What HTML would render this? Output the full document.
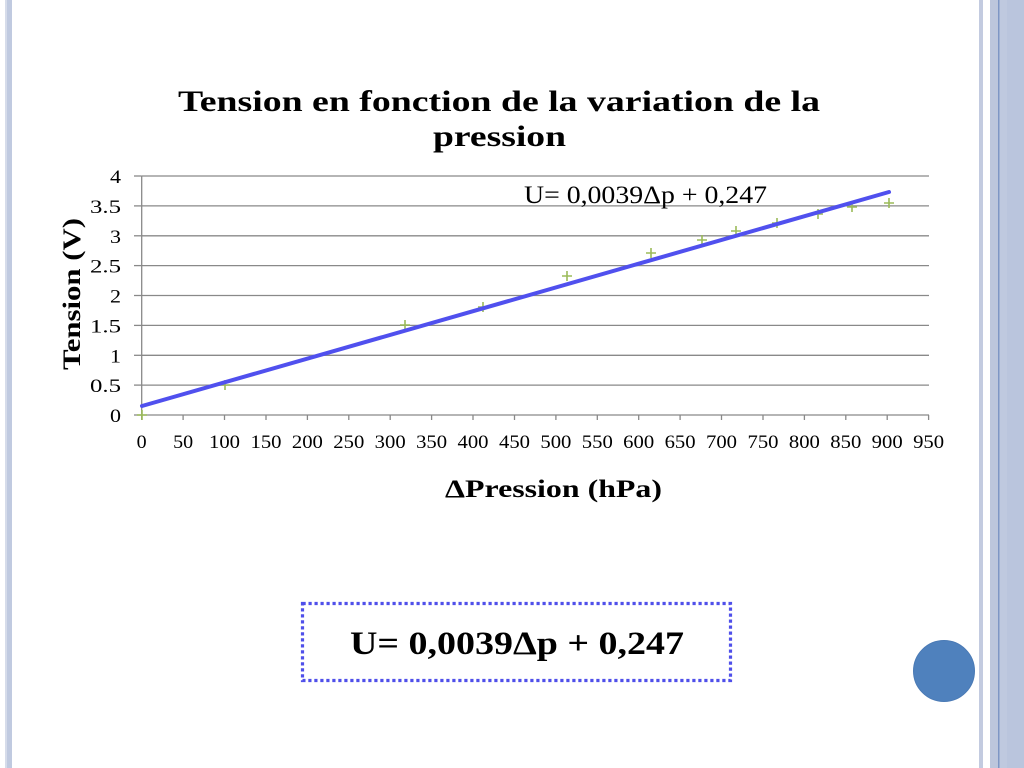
<!DOCTYPE html>
<html>
<head>
<meta charset="utf-8">
<style>
  html, body { margin: 0; padding: 0; background: #ffffff; }
  body { width: 1024px; height: 768px; overflow: hidden; }
  svg { display: block; }
  text { font-family: "Liberation Serif", "DejaVu Serif", serif; fill: #000; }
</style>
</head>
<body>
<svg width="1024" height="768" viewBox="0 0 1024 768" xmlns="http://www.w3.org/2000/svg">
  <rect x="0" y="0" width="1024" height="768" fill="#ffffff"/>

  <!-- left border stripe -->
  <rect x="5" y="0" width="2" height="768" fill="#d6dcea"/>
  <rect x="7" y="0" width="5" height="768" fill="#c0cae0"/>

  <!-- right border stripes -->
  <rect x="979" y="0" width="4" height="768" fill="#c3cbe0"/>
  <rect x="990" y="0" width="8" height="768" fill="#bcc6dc"/>
  <rect x="998" y="0" width="1.5" height="768" fill="#7e96c4"/>
  <rect x="999.5" y="0" width="7.5" height="768" fill="#bfc9df"/>
  <rect x="1007" y="0" width="17" height="768" fill="#bac5dd"/>

  <!-- Title -->
  <text x="178" y="111" font-size="30" font-weight="bold" textLength="642" lengthAdjust="spacingAndGlyphs">Tension en fonction de la variation de la</text>
  <text x="433" y="146" font-size="30" font-weight="bold" textLength="133" lengthAdjust="spacingAndGlyphs">pression</text>

  <!-- gridlines -->
  <g stroke="#898989" stroke-width="1.3">
    <line x1="141.7" y1="176" x2="929" y2="176"/>
    <line x1="141.7" y1="205.9" x2="929" y2="205.9"/>
    <line x1="141.7" y1="235.8" x2="929" y2="235.8"/>
    <line x1="141.7" y1="265.6" x2="929" y2="265.6"/>
    <line x1="141.7" y1="295.5" x2="929" y2="295.5"/>
    <line x1="141.7" y1="325.4" x2="929" y2="325.4"/>
    <line x1="141.7" y1="355.3" x2="929" y2="355.3"/>
    <line x1="141.7" y1="385.1" x2="929" y2="385.1"/>
    <line x1="141.7" y1="415" x2="929" y2="415"/>
    <!-- y ticks -->
    <line x1="134" y1="176" x2="141.7" y2="176"/>
    <line x1="134" y1="205.9" x2="141.7" y2="205.9"/>
    <line x1="134" y1="235.8" x2="141.7" y2="235.8"/>
    <line x1="134" y1="265.6" x2="141.7" y2="265.6"/>
    <line x1="134" y1="295.5" x2="141.7" y2="295.5"/>
    <line x1="134" y1="325.4" x2="141.7" y2="325.4"/>
    <line x1="134" y1="355.3" x2="141.7" y2="355.3"/>
    <line x1="134" y1="385.1" x2="141.7" y2="385.1"/>
    <line x1="134" y1="415" x2="141.7" y2="415"/>
    <!-- y axis -->
    <line x1="141.7" y1="176" x2="141.7" y2="420"/>
    <!-- x ticks -->
    <line x1="183.1" y1="415" x2="183.1" y2="420"/>
    <line x1="224.5" y1="415" x2="224.5" y2="420"/>
    <line x1="266" y1="415" x2="266" y2="420"/>
    <line x1="307.4" y1="415" x2="307.4" y2="420"/>
    <line x1="348.8" y1="415" x2="348.8" y2="420"/>
    <line x1="390.2" y1="415" x2="390.2" y2="420"/>
    <line x1="431.6" y1="415" x2="431.6" y2="420"/>
    <line x1="473" y1="415" x2="473" y2="420"/>
    <line x1="514.5" y1="415" x2="514.5" y2="420"/>
    <line x1="555.9" y1="415" x2="555.9" y2="420"/>
    <line x1="597.3" y1="415" x2="597.3" y2="420"/>
    <line x1="638.7" y1="415" x2="638.7" y2="420"/>
    <line x1="680.1" y1="415" x2="680.1" y2="420"/>
    <line x1="721.5" y1="415" x2="721.5" y2="420"/>
    <line x1="763" y1="415" x2="763" y2="420"/>
    <line x1="804.4" y1="415" x2="804.4" y2="420"/>
    <line x1="845.8" y1="415" x2="845.8" y2="420"/>
    <line x1="887.2" y1="415" x2="887.2" y2="420"/>
    <line x1="928.6" y1="415" x2="928.6" y2="420"/>
  </g>

  <!-- y tick labels -->
  <g font-size="19" text-anchor="end">
    <text x="121" y="183" textLength="11" lengthAdjust="spacingAndGlyphs">4</text>
    <text x="121" y="213" textLength="31" lengthAdjust="spacingAndGlyphs">3.5</text>
    <text x="121" y="243" textLength="11" lengthAdjust="spacingAndGlyphs">3</text>
    <text x="121" y="272.6" textLength="31" lengthAdjust="spacingAndGlyphs">2.5</text>
    <text x="121" y="302.5" textLength="11" lengthAdjust="spacingAndGlyphs">2</text>
    <text x="121" y="332.4" textLength="31" lengthAdjust="spacingAndGlyphs">1.5</text>
    <text x="121" y="362.3" textLength="11" lengthAdjust="spacingAndGlyphs">1</text>
    <text x="121" y="392.1" textLength="31" lengthAdjust="spacingAndGlyphs">0.5</text>
    <text x="121" y="422" textLength="11" lengthAdjust="spacingAndGlyphs">0</text>
  </g>

  <!-- x tick labels -->
  <g font-size="19" text-anchor="middle">
    <text x="141.7" y="448" textLength="10" lengthAdjust="spacingAndGlyphs">0</text>
    <text x="183.1" y="448" textLength="20" lengthAdjust="spacingAndGlyphs">50</text>
    <text x="224.5" y="448" textLength="31" lengthAdjust="spacingAndGlyphs">100</text>
    <text x="266" y="448" textLength="31" lengthAdjust="spacingAndGlyphs">150</text>
    <text x="307.4" y="448" textLength="31" lengthAdjust="spacingAndGlyphs">200</text>
    <text x="348.8" y="448" textLength="31" lengthAdjust="spacingAndGlyphs">250</text>
    <text x="390.2" y="448" textLength="31" lengthAdjust="spacingAndGlyphs">300</text>
    <text x="431.6" y="448" textLength="31" lengthAdjust="spacingAndGlyphs">350</text>
    <text x="473" y="448" textLength="31" lengthAdjust="spacingAndGlyphs">400</text>
    <text x="514.5" y="448" textLength="31" lengthAdjust="spacingAndGlyphs">450</text>
    <text x="555.9" y="448" textLength="31" lengthAdjust="spacingAndGlyphs">500</text>
    <text x="597.3" y="448" textLength="31" lengthAdjust="spacingAndGlyphs">550</text>
    <text x="638.7" y="448" textLength="31" lengthAdjust="spacingAndGlyphs">600</text>
    <text x="680.1" y="448" textLength="31" lengthAdjust="spacingAndGlyphs">650</text>
    <text x="721.5" y="448" textLength="31" lengthAdjust="spacingAndGlyphs">700</text>
    <text x="763" y="448" textLength="31" lengthAdjust="spacingAndGlyphs">750</text>
    <text x="804.4" y="448" textLength="31" lengthAdjust="spacingAndGlyphs">800</text>
    <text x="845.8" y="448" textLength="31" lengthAdjust="spacingAndGlyphs">850</text>
    <text x="887.2" y="448" textLength="31" lengthAdjust="spacingAndGlyphs">900</text>
    <text x="928.6" y="448" textLength="31" lengthAdjust="spacingAndGlyphs">950</text>
  </g>

  <!-- axis titles -->
  <text x="445" y="497" font-size="25" font-weight="bold" textLength="217" lengthAdjust="spacingAndGlyphs">ΔPression (hPa)</text>
  <text transform="translate(80,294) rotate(-90)" x="0" y="0" font-size="25" font-weight="bold" text-anchor="middle" textLength="152" lengthAdjust="spacingAndGlyphs">Tension (V)</text>

  <!-- data markers -->
  <g stroke="#9bbb59" stroke-width="1.6" fill="none">
    <path d="M137 415h10M142 410v10"/>
    <path d="M220 385h10M225 380v10"/>
    <path d="M400 325h10M405 320v10"/>
    <path d="M478 307h10M483 302v10"/>
    <path d="M562 276h10M567 271v10"/>
    <path d="M646 253h10M651 248v10"/>
    <path d="M697 240h10M702 235v10"/>
    <path d="M731 231h10M736 226v10"/>
    <path d="M772 223h10M777 218v10"/>
    <path d="M813 214h10M818 209v10"/>
    <path d="M847 207h10M852 202v10"/>
    <path d="M884 203h10M889 198v10"/>
  </g>

  <!-- trendline -->
  <line x1="142" y1="406" x2="889" y2="192" stroke="#5050ee" stroke-width="4" stroke-linecap="round"/>

  <!-- trendline equation -->
  <text x="524" y="203" font-size="25" textLength="243" lengthAdjust="spacingAndGlyphs">U= 0,0039Δp + 0,247</text>

  <!-- equation box -->
  <rect x="302.5" y="603.5" width="428" height="77" fill="none" stroke="#4f4fea" stroke-width="3.2" stroke-dasharray="3.2 2.8"/>
  <text x="350" y="654" font-size="33" font-weight="bold" textLength="334" lengthAdjust="spacingAndGlyphs">U= 0,0039Δp + 0,247</text>

  <!-- circle -->
  <circle cx="944" cy="671" r="30.5" fill="#4f81bd" stroke="#4a7ab5" stroke-width="1"/>
</svg>
</body>
</html>
